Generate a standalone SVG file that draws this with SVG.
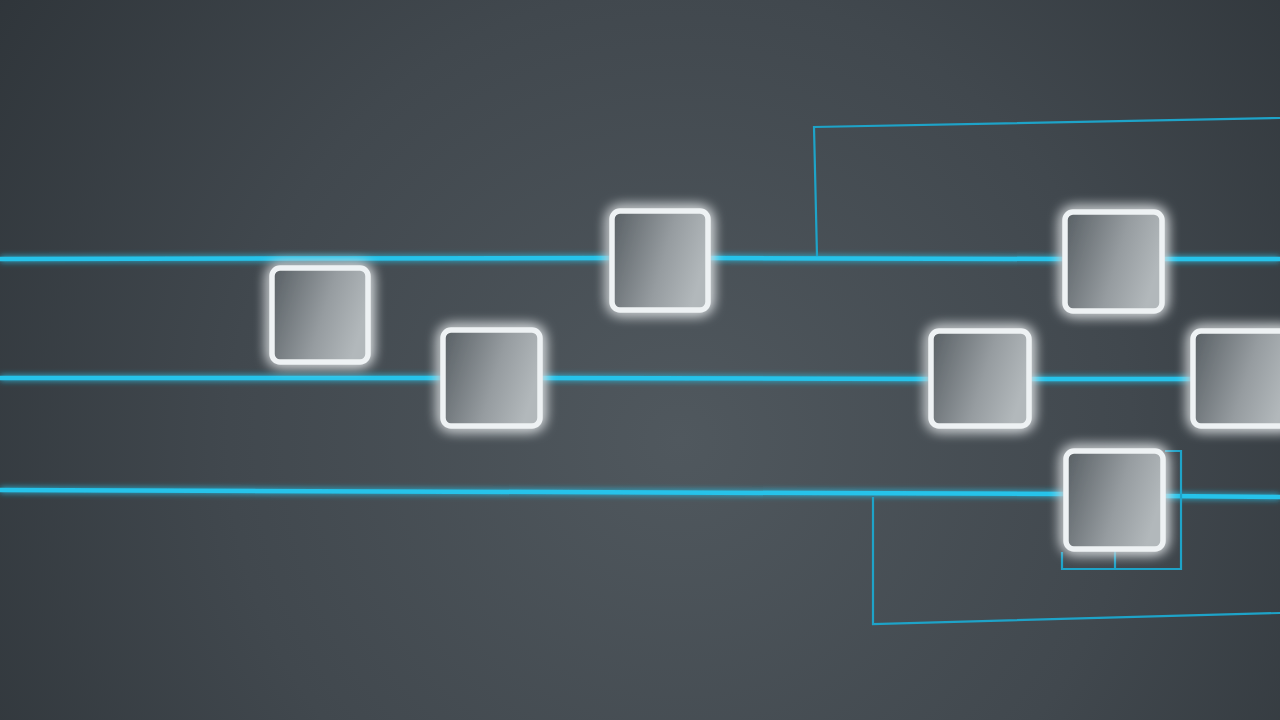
<svg xmlns="http://www.w3.org/2000/svg" width="1280" height="720" viewBox="0 0 1280 720">
<defs>
<radialGradient id="bg" cx="680" cy="440" r="820" gradientUnits="userSpaceOnUse">
<stop offset="0" stop-color="#50585e"/>
<stop offset="0.55" stop-color="#41484e"/>
<stop offset="1" stop-color="#2f353a"/>
</radialGradient>
<linearGradient id="nf" x1="0" y1="0.1" x2="1" y2="0.4">
<stop offset="0" stop-color="#5a6166"/>
<stop offset="0.6" stop-color="#969ca0"/>
<stop offset="1" stop-color="#b2b8bb"/>
</linearGradient>
<filter id="glow" x="-40%" y="-40%" width="180%" height="180%">
<feGaussianBlur in="SourceGraphic" stdDeviation="7" result="b"/>
<feMerge><feMergeNode in="b"/><feMergeNode in="b"/><feMergeNode in="SourceGraphic"/></feMerge>
</filter>
<filter id="lglow" x="-5%" y="-200%" width="110%" height="500%">
<feGaussianBlur in="SourceGraphic" stdDeviation="3" result="b"/>
<feMerge><feMergeNode in="b"/><feMergeNode in="SourceGraphic"/></feMerge>
</filter>
<style>
.main{stroke:#25c3ea;stroke-width:4.5;fill:none}
.thin{stroke:#1ea3c8;stroke-width:2.2;fill:none}
.node{fill:url(#nf);stroke:#eef2f4;stroke-width:5.5}
</style>
</defs>
<rect width="1280" height="720" fill="url(#bg)"/>
<g id="connectors">
<g filter="url(#lglow)">
<path class="main" d="M0 259 L612 258"/>
<path class="main" d="M708 258 L1065 259"/>
<path class="main" d="M1162 259 L1280 259"/>
<path class="main" d="M0 378 L443 378"/>
<path class="main" d="M540 378 L931 379"/>
<path class="main" d="M1029 379 L1193 379"/>
<path class="main" d="M0 490 L1066 494"/>
<path class="main" d="M1163 496 L1280 497"/>
</g>
<path class="thin" d="M817 256 L814 127 L1280 118"/>
<path class="thin" d="M873 497 L873 624 L1280 613"/>
<path class="thin" d="M1165 451 L1181 451 L1181 569 L1062 569 L1062 552"/>
<path class="thin" d="M1115 551 L1115 569"/>
</g>
<g id="node1" filter="url(#glow)"><rect class="node" x="272" y="268" width="96" height="94" rx="8"/></g>
<g id="node2" filter="url(#glow)"><rect class="node" x="443" y="330" width="97" height="96" rx="8"/></g>
<g id="node3" filter="url(#glow)"><rect class="node" x="612" y="211" width="96" height="99" rx="8"/></g>
<g id="node4" filter="url(#glow)"><rect class="node" x="1065" y="212" width="97" height="99" rx="8"/></g>
<g id="node5" filter="url(#glow)"><rect class="node" x="931" y="331" width="98" height="95" rx="8"/></g>
<g id="node6" filter="url(#glow)"><rect class="node" x="1193" y="331" width="100" height="95" rx="8"/></g>
<g id="node7" filter="url(#glow)"><rect class="node" x="1066" y="451" width="97" height="98" rx="8"/></g>
</svg>
